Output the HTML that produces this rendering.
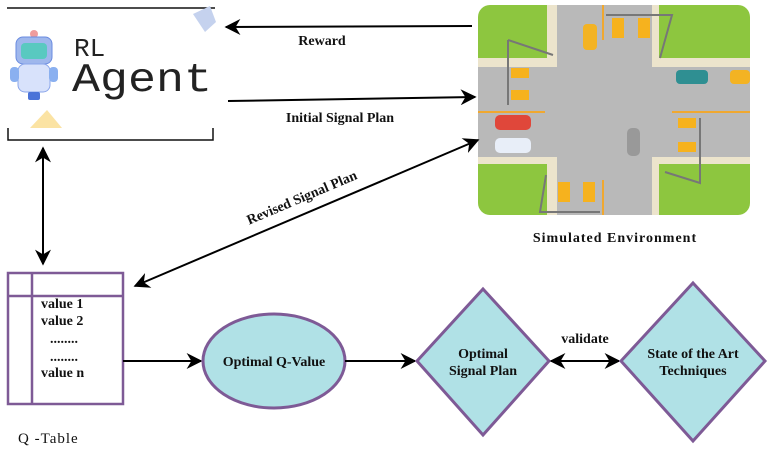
<!DOCTYPE html>
<html><head><meta charset="utf-8"><style>
body{margin:0;background:#fff;}
svg{display:block;}
.t{font-family:"Liberation Serif",serif;font-weight:bold;font-size:14px;fill:#111;}
</style></head><body>
<svg width="768" height="463" viewBox="0 0 768 463" xmlns="http://www.w3.org/2000/svg">
<defs>
<marker id="a" viewBox="0 0 10 10" refX="9" refY="5" markerWidth="8" markerHeight="8" orient="auto-start-reverse"><path d="M0,0 L10,5 L0,10 L3,5 z" fill="#000"/></marker>
</defs>
<!-- RL Agent -->
<line x1="7" y1="8" x2="215" y2="8" stroke="#111" stroke-width="1.5"/>
<path d="M8,128 V140 H213 V128" fill="none" stroke="#111" stroke-width="1.5"/>
<path d="M193,14 L210,6 L216,22 L205,32 Z" fill="#c5d2ee"/>
<path d="M30,128 L47,110 L62,128 Z" fill="#fbe3a3"/>
<circle cx="34" cy="34" r="4" fill="#ef9c9c"/>
<rect x="16" y="37" width="36" height="27" rx="7" fill="#9fb7ec" stroke="#6a8be0"/>
<rect x="21" y="43" width="26" height="16" rx="4" fill="#59c9c0"/>
<rect x="18" y="64" width="32" height="28" rx="7" fill="#d8e2fb" stroke="#8aa5ea"/>
<rect x="10" y="67" width="9" height="15" rx="4" fill="#8ab0f0"/>
<rect x="49" y="67" width="9" height="15" rx="4" fill="#8ab0f0"/>
<rect x="28" y="92" width="12" height="8" rx="2" fill="#4a73d8"/>
<text x="74" y="56" font-family="Liberation Mono,monospace" font-size="26" fill="#222">RL</text>
<text x="72" y="91" font-family="Liberation Mono,monospace" font-size="41" textLength="140" lengthAdjust="spacingAndGlyphs" fill="#222">Agent</text>
<!-- Environment -->
<g>
<clipPath id="c"><rect x="478" y="5" width="272" height="210" rx="12"/></clipPath>
<g clip-path="url(#c)">
<rect x="478" y="5" width="272" height="210" fill="#8dc63f"/>
<rect x="478" y="58" width="272" height="106" fill="#ece4cc"/>
<rect x="547" y="5" width="112" height="210" fill="#ece4cc"/>
<rect x="478" y="67" width="272" height="90" fill="#b9b9b9"/>
<rect x="557" y="5" width="95" height="210" fill="#b9b9b9"/>
<line x1="478" y1="112" x2="545" y2="112" stroke="#f0a830" stroke-width="2"/>
<line x1="672" y1="112" x2="750" y2="112" stroke="#f0a830" stroke-width="2"/>
<line x1="603" y1="5" x2="603" y2="40" stroke="#f0a830" stroke-width="2"/>
<line x1="603" y1="180" x2="603" y2="215" stroke="#f0a830" stroke-width="2"/>
<rect x="583" y="24" width="14" height="26" rx="4" fill="#f3b323"/>
<rect x="676" y="70" width="32" height="14" rx="4" fill="#2f8f92"/>
<rect x="730" y="70" width="20" height="14" rx="4" fill="#f3b323"/>
<rect x="495" y="115" width="36" height="15" rx="5" fill="#e0473a"/>
<rect x="495" y="138" width="36" height="15" rx="5" fill="#e8eef8"/>
<rect x="627" y="128" width="13" height="28" rx="5" fill="#999"/>
<g fill="#f6b21e"><rect x="511" y="68" width="18" height="10"/><rect x="511" y="90" width="18" height="10"/><rect x="612" y="18" width="12" height="20"/><rect x="638" y="18" width="12" height="20"/><rect x="678" y="118" width="18" height="10"/><rect x="678" y="142" width="18" height="10"/><rect x="558" y="182" width="12" height="20"/><rect x="583" y="182" width="12" height="20"/></g>
<path d="M508,40 L553,55 M508,40 V105 M606,15 H672 L660,58 M700,118 V183 L665,172 M546,175 L540,212 H600" stroke="#777" stroke-width="2" fill="none"/>
</g>
</g>
<text class="t" x="615" y="242" text-anchor="middle" letter-spacing="1">Simulated Environment</text>
<!-- top arrows -->
<line x1="472" y1="26" x2="226" y2="27" stroke="#000" stroke-width="2" marker-end="url(#a)"/>
<text class="t" x="322" y="45" text-anchor="middle">Reward</text>
<line x1="228" y1="101" x2="475" y2="97" stroke="#000" stroke-width="2" marker-end="url(#a)"/>
<text class="t" x="340" y="122" text-anchor="middle">Initial Signal Plan</text>
<line x1="135" y1="286" x2="478" y2="140" stroke="#000" stroke-width="2" marker-start="url(#a)" marker-end="url(#a)"/>
<text class="t" x="302" y="202" text-anchor="middle" transform="rotate(-23 302 198)">Revised Signal Plan</text>
<line x1="43" y1="148" x2="43" y2="264" stroke="#000" stroke-width="2" marker-start="url(#a)" marker-end="url(#a)"/>
<!-- Q table -->
<rect x="8" y="273" width="115" height="131" fill="#fff" stroke="#7e5a96" stroke-width="2.5"/>
<line x1="8" y1="296" x2="123" y2="296" stroke="#7e5a96" stroke-width="2.5"/>
<line x1="32" y1="273" x2="32" y2="404" stroke="#7e5a96" stroke-width="2.5"/>
<text class="t" x="41" y="308">value 1</text>
<text class="t" x="41" y="325">value 2</text>
<text class="t" x="50" y="343">........</text>
<text class="t" x="50" y="361">........</text>
<text class="t" x="41" y="377">value n</text>
<text x="18" y="443" font-family="Liberation Serif,serif" font-size="15" letter-spacing="1" fill="#111">Q -Table</text>
<line x1="123" y1="361" x2="201" y2="361" stroke="#000" stroke-width="2" marker-end="url(#a)"/>
<ellipse cx="274" cy="361" rx="71" ry="47" fill="#b0e1e6" stroke="#7e5a96" stroke-width="3"/>
<text class="t" x="274" y="366" text-anchor="middle">Optimal Q-Value</text>
<line x1="345" y1="361" x2="415" y2="361" stroke="#000" stroke-width="2" marker-end="url(#a)"/>
<path d="M483,289 L549,361 L483,435 L417,361 Z" fill="#b0e1e6" stroke="#7e5a96" stroke-width="3"/>
<text class="t" x="483" y="358" text-anchor="middle">Optimal</text>
<text class="t" x="483" y="375" text-anchor="middle">Signal Plan</text>
<line x1="551" y1="361" x2="619" y2="361" stroke="#000" stroke-width="2" marker-start="url(#a)" marker-end="url(#a)"/>
<text class="t" x="585" y="343" text-anchor="middle">validate</text>
<path d="M693,283 L765,361 L693,441 L621,361 Z" fill="#b0e1e6" stroke="#7e5a96" stroke-width="3"/>
<text class="t" x="693" y="358" text-anchor="middle">State of the Art</text>
<text class="t" x="693" y="375" text-anchor="middle">Techniques</text>
</svg>
</body></html>
